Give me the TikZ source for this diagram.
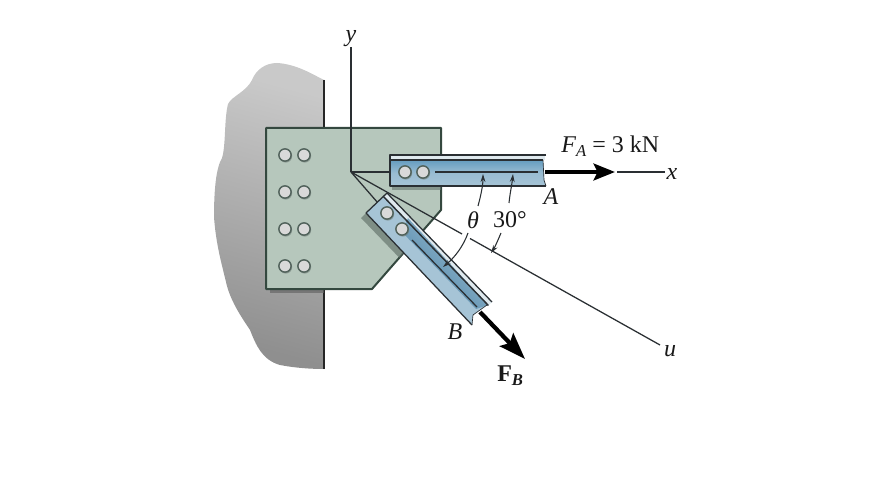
\documentclass[tikz,border=0pt]{standalone}
\usepackage{fontspec}
\setmainfont{Liberation Serif}
\usetikzlibrary{arrows.meta,calc}
\definecolor{plategreen}{HTML}{B6C7BC}
\definecolor{plateedge}{HTML}{34483F}
\definecolor{barblue}{HTML}{A6C4D6}
\definecolor{bardeep}{HTML}{4F8FB8}
\definecolor{flangelight}{HTML}{DFE9EE}
\definecolor{inkline}{HTML}{2A2F33}
\tikzset{
  thinline/.style={draw=inkline,line width=0.95pt},
  dimline/.style={draw=inkline,line width=0.8pt},
  dimtip/.style={-{Stealth[length=6pt,width=3.6pt]}},
  baredge/.style={draw=inkline,line width=0.95pt,line join=round},
  boltc/.style={circle,draw=plateedge!85,line width=1.1pt,fill=black!15,minimum size=9.2pt,inner sep=0pt},
  boltshadow/.style={circle,fill=plateedge!70,minimum size=9.6pt,inner sep=0pt,opacity=.6},
  lab/.style={inner sep=0pt,font=\fontsize{18pt}{20pt}\selectfont,text=black!90},
}
\newcommand{\boltat}[3]{\node[boltshadow] at ($(#2,#3)+(0.8,1.2)$) {};\node[boltc] (#1) at (#2,#3) {};}
\begin{document}
\begin{tikzpicture}[x=0.75pt,y=-0.75pt]
\useasboundingbox (0,0) rectangle (895,495);
% wall
\shade[top color=black!21,bottom color=black!44,shading angle=-15]
  (324,80) .. controls (312,74) and (296,64) .. (277,63)
  .. controls (265,63) and (256,70) .. (252,80)
  .. controls (246,92) and (232,96) .. (228,104)
  .. controls (224,120) and (226,145) .. (222,158)
  .. controls (216,168) and (214,190) .. (214,217)
  .. controls (216,245) and (222,265) .. (226,282)
  .. controls (230,300) and (240,315) .. (250,330)
  .. controls (256,345) and (262,360) .. (280,365)
  .. controls (295,368) and (312,369) .. (324,369) -- cycle;
\draw[draw=black!85,line width=1.3pt] (324,80) -- (324,369);
% plate
\fill[black!60,opacity=.7] (270,289) rectangle (324,293);
\path[fill=plategreen,draw=plateedge,line width=1.5pt,line join=round]
  (266,128) -- (441,128) -- (441,210) -- (372,289) -- (266,289) -- cycle;
% axes on plate
\coordinate (O) at (351,172);
\coordinate (ytop) at (351,47);
\draw[thinline] (ytop) -- (O);
% plate bolts
\boltat{p1}{285}{155}\boltat{p2}{304}{155}
\boltat{p3}{285}{192}\boltat{p4}{304}{192}
\boltat{p5}{285}{229}\boltat{p6}{304}{229}
\boltat{p7}{285}{266}\boltat{p8}{304}{266}
% reference lines
\coordinate (uend) at (660,345);
\coordinate (ugapa) at (462,234);
\coordinate (ugapb) at (470,238.5);
\coordinate (bhid) at (378,203);
\draw[thinline] (O) -- (ugapa);
\draw[thinline] (ugapb) -- (uend);
\draw[thinline] (O) -- (bhid);
\draw[thinline] (O) -- (390,172);
% bar shadows on the plate
\begin{scope}
\clip (266,128) -- (441,128) -- (441,210) -- (372,289) -- (266,289) -- cycle;
\fill[plateedge!75,opacity=.6] (392,186) rectangle (441,190);
\fill[plateedge!75,opacity=.7] (366,213) -- (420,270) -- (415,274) -- (361,218) -- cycle;
\end{scope}
% bar A
\path[fill=flangelight] (390,155) rectangle (545,160);
\shade[top color=bardeep!75!barblue,bottom color=barblue,middle color=barblue!85!bardeep] (390,160) -- (543,160) -- (544,172) -- (544,180) -- (546,186) -- (390,186) -- cycle;
\draw[baredge] (546,155) -- (390,155) -- (390,186) -- (546,186);
\draw[baredge,line width=1.2pt] (390,160) -- (543,160);
\draw[draw=inkline,line width=.5pt] (543,160) -- (544,180) -- (546,186);
\boltat{a1}{405}{172}\boltat{a2}{423}{172}
\draw[thinline] (435,172) -- (538,172);
% force A
\coordinate (fa0) at (545,172);
\coordinate (fa1) at (615,172);
\draw[line width=3.6pt,black,-{Stealth[length=16pt,width=12.5pt,inset=3pt]}] (fa0) -- (fa1);
\coordinate (xs) at (617,172);
\coordinate (xe) at (665,172);
\draw[thinline] (xs) -- (xe);
% bar B
\path[fill=barblue] (387,193) -- (366,213) -- (472,325) -- (473,315) -- (487,305) -- (492,302) -- cycle;
\path[fill=flangelight] (387,193) -- (492,302) -- (488.4,305.5) -- (383.4,196.5) -- cycle;
\shade[left color=barblue,right color=bardeep!90!black,shading angle=-46]
  (408,218) -- (488,305) -- (476,309) -- (402,232) -- cycle;
\draw[baredge] (492,302) -- (387,193) -- (366,213) -- (472,325);
\draw[baredge,line width=1.1pt] (383.4,196.5) -- (488.4,305.5);
\draw[draw=inkline,line width=.5pt] (472,325) -- (473,315) -- (487,305);
\draw[thinline] (412,240) -- (477,307);
\boltat{b1}{387}{213}\boltat{b2}{402}{229}
% force B
\coordinate (fb0) at (480,312);
\coordinate (fb1) at (525,359);
\draw[line width=3.2pt,black,-{Stealth[length=20pt,width=14pt,inset=3.5pt]}] (fb0) -- (fb1);
% dimension arcs
\coordinate (th0) at (478,206);
\coordinate (th1) at (483,174);
\coordinate (th2) at (468,233);
\coordinate (th3) at (443,267);
\draw[dimline,dimtip] (th0) .. controls (481,195) and (483,185) .. (th1);
\draw[dimline,dimtip] (th2) .. controls (463,247) and (454,258) .. (th3);
\coordinate (d0) at (509,203);
\coordinate (d1) at (513,174);
\coordinate (d2) at (501,233);
\coordinate (d3) at (491,253);
\draw[dimline,dimtip] (d0) .. controls (510,193) and (512,184) .. (d1);
\draw[dimline,dimtip] (d2) .. controls (498,240) and (495,247) .. (d3);
% labels
\node[lab] (ylab) at (351,39) {\textit{y}};
\node[lab] (xlab) at (672,174) {\textit{x}};
\node[lab] (ulab) at (670,351) {\textit{u}};
\node[lab] (alab) at (551,197) {\textit{A}};
\node[lab] (blab) at (455,332) {\textit{B}};
\node[lab] (thlab) at (473,220) {\textit{θ}};
\node[lab] (deglab) at (510,220) {30°};
\node[lab,anchor=west] (falab) at (561,146) {\textit{F}\raisebox{-3pt}{\fontsize{12.5pt}{13pt}\selectfont\textit{A}} = 3 kN};
\node[lab,anchor=west] (fblab) at (497,376) {\textbf{F}\raisebox{-3pt}{\fontsize{12.5pt}{13pt}\selectfont\textit{\textbf{B}}}};
\end{tikzpicture}
\end{document}
